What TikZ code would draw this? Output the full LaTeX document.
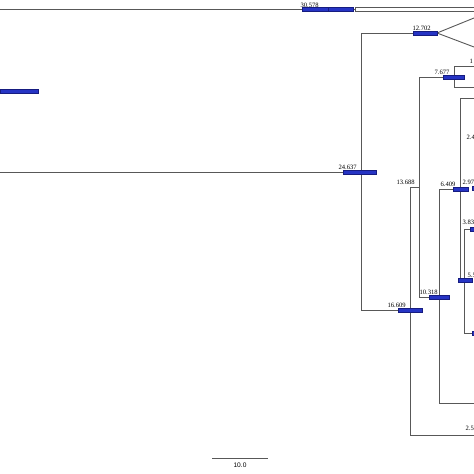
\documentclass[tikz,border=0pt]{standalone}
\usepackage{fontspec}
\setmainfont{Liberation Serif}
\newfontfamily\barfont{Liberation Sans}
\usetikzlibrary{arrows.meta}
\definecolor{branchcol}{RGB}{88,88,88}
\definecolor{hpdfill}{RGB}{38,52,196}
\definecolor{hpdline}{RGB}{22,28,128}

\begin{document}
\begin{tikzpicture}[x=1pt, y=-1pt,
  branch/.style={draw=branchcol, line width=0.9pt},
  hpd/.style={fill=hpdfill, draw=hpdline, line width=0.3pt},
  age/.style={font=\fontsize{6.6}{7}\selectfont, inner sep=0.4pt, anchor=south west},
]
\useasboundingbox (0,0) rectangle (474,474);
\clip (0,0) rectangle (474,474);

% ---- Tree nodes ----
\coordinate (top) at (355,9.5);
\coordinate (n24) at (361,172);
\coordinate (n12) at (437,33);
\coordinate (n16) at (410,310);
\coordinate (n13) at (419,187);
\coordinate (n7)  at (454,77);
\coordinate (n10) at (439,297);
\coordinate (n6)  at (460,189);
\coordinate (n5)  at (464,280);

% ---- Free ends (left and right edges) ----
\coordinate (t0)  at (0,9.5);
\coordinate (r0)  at (0,172);
\coordinate (ta)  at (474,7.5);
\coordinate (tb)  at (474,11);
\coordinate (da)  at (474,18);
\coordinate (db)  at (474,47);
\coordinate (e7a) at (474,66);
\coordinate (e7b) at (474,87);
\coordinate (e6a) at (474,98);
\coordinate (e5a) at (474,229);
\coordinate (e5b) at (474,333);
\coordinate (e10) at (474,403);
\coordinate (e16) at (474,435);

% ---- Branches ----
\draw[branch, line width=1.3pt] (t0) -- (top);
\draw[branch] (r0) -- (n24);
\foreach \a/\b in {top/ta, top/tb, n24/n12, n24/n16, n16/n13, n16/e16,
                   n13/n7, n13/n10, n7/e7a, n7/e7b, n10/n6, n10/e10,
                   n6/e6a, n6/n5, n5/e5a, n5/e5b}
  \draw[branch] (\a) |- (\b);
\foreach \b in {da, db}
  \draw[branch] (n12) -- (\b);

% ---- Node-age bars ----
\foreach \xa/\xb/\yy in {302/353/9.5, 0/38/91, 343/376/172, 413/437/33,
                         443/464/77, 398/422/310, 429/449/297, 453/468/189,
                         458/472/280, 470/476/229, 472/476/188, 472/476/333}
  \draw[hpd] (\xa,\yy-2) rectangle (\xb,\yy+2);
\draw[hpd, line width=0.9pt] (328,7.5) rectangle (353,11.5);

% ---- Age labels ----
\node[age] (l30) at (300,8)   {30.578};
\node[age] (l12) at (412,31)  {12.702};
\node[age] (l24) at (338,170) {24.637};
\node[age] (l13) at (396,185) {13.688};
\node[age] (l77) at (434,75)  {7.677};
\node[age] (l16) at (387,308) {16.609};
\node[age] (l10) at (419,295) {10.318};
\node[age] (l64) at (440,187) {6.409};
\node[age] (l29) at (462,185) {2.97};
\node[age] (l24b) at (466,140) {2.4};
\node[age] (l38) at (462,225) {3.83};
\node[age] (l55) at (467,278) {5.5};
\node[age] (l1)  at (469,64)  {1};
\node[age] (l25) at (465,431) {2.5};

% ---- Scale bar ----
\coordinate (sb0) at (212,458);
\coordinate (sb1) at (268,458);
\draw[branch, line width=0.8pt] (sb0) -- (sb1);
\node[font=\barfont\fontsize{6.6}{7}\selectfont, inner sep=0.5pt, anchor=north]
  (sbl) at (240,462) {10.0};
\end{tikzpicture}
\end{document}
